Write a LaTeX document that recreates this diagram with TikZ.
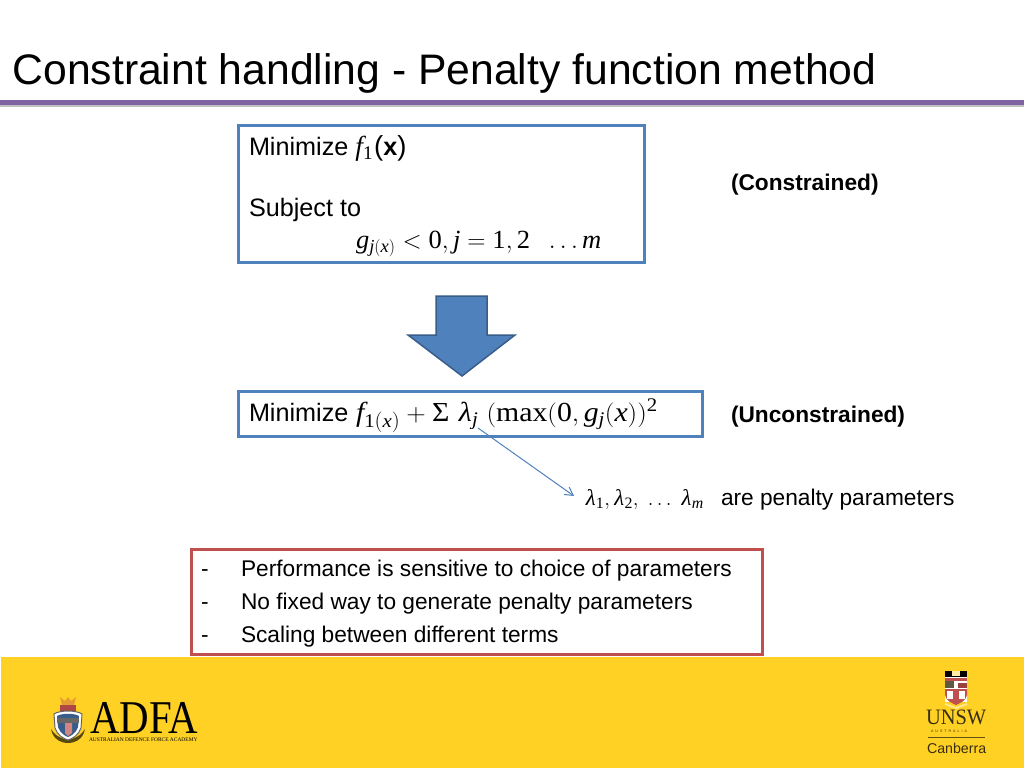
\documentclass[tikz,border=0pt]{standalone}
\usepackage{mathspec}
\setmainfont{Liberation Sans}
\setmathsfont(Digits,Latin,Greek){Liberation Serif}
\setmathrm{Liberation Serif}
\newfontfamily\logoserif{Liberation Serif}
\usetikzlibrary{arrows.meta}
\definecolor{bandyellow}{HTML}{FFD124}
\definecolor{rulepurple}{HTML}{8064A2}
\definecolor{boxblue}{HTML}{4F81BD}
\definecolor{arrowedge}{HTML}{385D8A}
\definecolor{boxred}{HTML}{C0504D}
\definecolor{darkink}{HTML}{3A2E10}
\newcommand{\fs}[1]{\fontsize{#1}{#1}\selectfont}
\tikzset{
  x=1pt,y=-1pt,
  txt/.style={anchor=base west,inner sep=0pt,outer sep=0pt,text=black},
  body/.style={txt,font=\fs{25.2}},
  mathbig/.style={txt,font=\fs{27.5}},
  small/.style={txt,font=\fs{22.7}},
  smallb/.style={txt,font=\fs{22.7}\bfseries},
  frame/.style={draw=boxblue,line width=3pt,fill=white},
  redframe/.style={draw=boxred,line width=3pt,fill=white},
}
\begin{document}
\begin{tikzpicture}
\useasboundingbox (0,0) rectangle (1024,768);
\fill[white] (0,0) rectangle (1024,768);
% title and rule
\node[txt,font=\fs{42.7}] (title) at (12.5,84) {Constraint handling - Penalty function method};
\fill[black!25] (0,104) rectangle (1024,107);
\fill[rulepurple] (0,100) rectangle (1024,104.5);
% footer band
\fill[bandyellow] (1,656.5) rectangle (1024,768);
% boxes
\draw[frame] (238,125) rectangle (644,262);
\draw[frame] (238,391) rectangle (702,436);
\draw[redframe] (191,549.5) rectangle (762,654);
% box 1
\node[body] (min1) at (249,155) {Minimize {\fs{27.5}$f_1$\hspace{1pt}(}\textbf{x}{\fs{27.5})}};
\node[body] (subj) at (249,216) {Subject to};
\node[body] (cons) at (356,248) {\fs{26.2}\scalebox{1.012}[1]{$g_{j(x)}<0, j=1,2\ \ \ldots m$}};
\node[smallb] (lab1) at (731,190) {(Constrained)};
% block arrow
\draw[draw=arrowedge,line width=1.5pt,fill=boxblue,line join=miter]
  (436,296) -- (487,296) -- (487,335) -- (515,335) -- (462,376) -- (408,335) -- (436,335) -- cycle;
% box 2
\node[body] (min2a) at (249,421) {Minimize};
\node[mathbig] (min2b) at (356,421) {\scalebox{1.083}[1]{$f_{1(x)}+\Sigma\ \lambda_j\ (\mathrm{max}(0,g_j(x))^2$}};
\node[smallb] (lab2) at (731,422) {(Unconstrained)};
% penalty parameters
\node[small] (lams) at (585,505) {$\lambda_1,\lambda_2,\;\ldots\;\lambda_m$};
\node[small] (pen) at (721,505) {are penalty parameters};
\coordinate (from) at (478,428);
\coordinate (to) at (574,496);
\draw[boxblue,line width=1pt,-{Straight Barb[length=8pt,width=9pt]}] (from) -- (to);
% list
\node[small] (d1) at (201,576) {-};
\node[small] (d2) at (201,609) {-};
\node[small] (d3) at (201,642) {-};
\node[small] (l1) at (241,576) {Performance is sensitive to choice of parameters};
\node[small] (l2) at (241,609) {No fixed way to generate penalty parameters};
\node[small] (l3) at (241,642) {Scaling between different terms};
% ADFA logo
\fill[bandyellow!60!boxred] (62,705) -- (60,697) -- (65,701) -- (68,697) -- (71,701) -- (76,697) -- (74,705) -- cycle;
\fill[boxred!90!black] (60,705) rectangle (76,711);
\fill[black!65!bandyellow] (51,729) .. controls (53,740) and (62,743) .. (68,743) .. controls (74,743) and (83,740) .. (85,729) .. controls (82,733) and (80,737) .. (68,740) .. controls (56,737) and (54,733) .. (51,729) -- cycle;
\fill[white,draw=black!60,line width=1pt] (54,714) .. controls (60,710) and (76,710) .. (82,714) -- (81,728) .. controls (79,735) and (72,739) .. (68,740) .. controls (64,739) and (57,735) .. (55,728) -- cycle;
\fill[arrowedge] (57,716) .. controls (62,713) and (74,713) .. (79,716) -- (78,727) .. controls (76,733) and (71,736) .. (68,737) .. controls (65,736) and (60,733) .. (58,727) -- cycle;
\fill[boxred!70!white] (65,722) -- (72,722) -- (72,733) -- (68,736) -- (65,733) -- cycle;
\fill[black!60] (57,718) rectangle (79,723);
\node[txt,font=\logoserif\fs{47}] (adfa) at (90,733) {\scalebox{0.87}[1]{ADFA}};
\node[txt,font=\logoserif\fs{5.45}] (adfasub) at (89,741) {AUSTRALIAN DEFENCE FORCE ACADEMY};
% UNSW logo
\fill[white] (945,671) rectangle (967,702);
\fill[black] (945,671) rectangle (967,677);
\fill[bandyellow!40!white] (952,671) rectangle (960,676);
\fill[boxred] (945,678) rectangle (967,681);
\fill[darkink!80] (945,681) rectangle (954,688);
\fill[boxred!80!black] (958,683) rectangle (967,688);
\fill[boxred] (945,689) -- (967,689) -- (967,695) .. controls (966,701) and (960,703) .. (956,705) .. controls (952,703) and (946,701) .. (945,695) -- cycle;
\fill[white] (947,691) rectangle (953,699);
\fill[white] (959,691) rectangle (965,699);
\fill[bandyellow!50!white] (945,703) -- (956,707) -- (967,703) -- (967,705) -- (956,709) -- (945,705) -- cycle;
\node[txt,font=\logoserif\fs{22},text=darkink] (unsw) at (926,724) {\scalebox{0.93}[1]{UNSW}};
\node[txt,font=\fs{3.6},text=darkink] (aus) at (931,732.5) {A\ \ U\ \ S\ \ T\ \ R\ \ A\ \ L\ \ I\ \ A};
\draw[darkink!80!bandyellow,line width=0.8pt] (928,737) -- (985,737);
\node[txt,font=\fs{14.2},text=darkink] (can) at (927,753) {Canberra};
\end{tikzpicture}
\end{document}
